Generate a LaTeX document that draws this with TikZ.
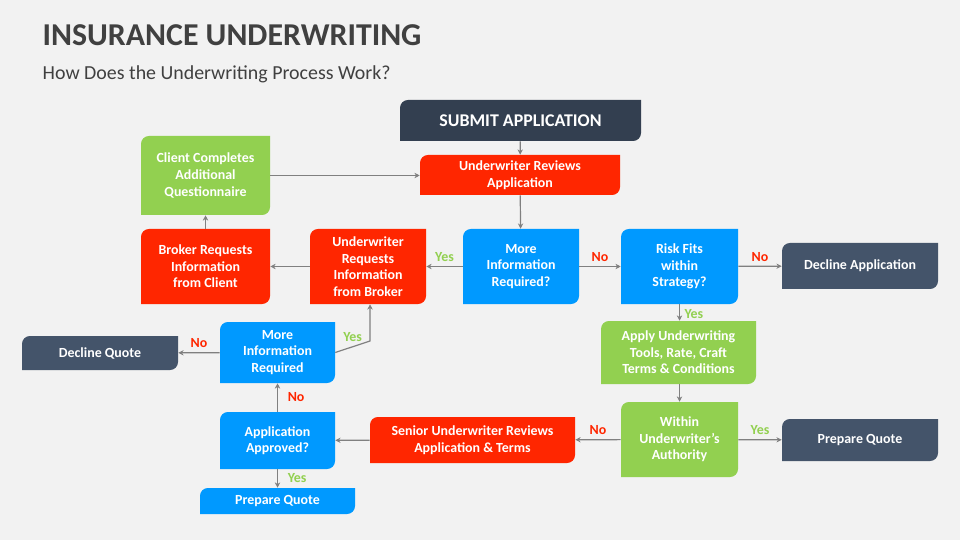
\documentclass[tikz,border=0pt]{standalone}
\usepackage{fontspec}
\setmainfont{Carlito}
\usetikzlibrary{arrows.meta}
\definecolor{bg}{HTML}{F2F2F2}
\definecolor{dk}{HTML}{333F50}
\definecolor{dk2}{HTML}{44546A}
\definecolor{rd}{HTML}{FF2600}
\definecolor{gr}{HTML}{92D050}
\definecolor{bl}{HTML}{0099FF}
\definecolor{tx}{HTML}{404040}
\definecolor{ln}{HTML}{808080}
\tikzset{
  conn/.style={draw=ln,line width=0.9pt,-{Stealth[length=4pt,width=4pt]}},
  yes/.style={text=gr,font=\bfseries\fontsize{10.5}{12}\selectfont},
  no/.style={text=rd,font=\bfseries\fontsize{10.5}{12}\selectfont},
  boxtext/.style={text=white,font=\bfseries\fontsize{10.5}{12.5}\selectfont,align=center,inner sep=0pt}
}
\newcommand{\bx}[7]{%
  \fill[#6] (#2,#5) [rounded corners=6pt] -- (#2,#3) [sharp corners] -- (#4,#3) [rounded corners=6pt] -- (#4,#5) [sharp corners] -- cycle;
  \node[boxtext,minimum width={(#4-#2)*0.0265cm},minimum height={(#5-#3)*0.0265cm}] (#1) at ({(#2+#4)/2},{(#3+#5)/2}) {#7};
}
\begin{document}
\begin{tikzpicture}[x=0.0265cm,y=-0.0265cm]
\fill[bg] (0,0) rectangle (960,540);
\useasboundingbox (0,0) rectangle (960,540);
\node[anchor=west,text=tx,font=\bfseries\fontsize{24}{28}\selectfont] (title) at (38,35) {INSURANCE UNDERWRITING};
\node[anchor=west,text=tx,font=\fontsize{15}{18}\selectfont] (sub) at (38,74) {How Does the Underwriting Process Work?};
\bx{submit}{400}{100}{641}{141}{dk}{\fontsize{13.5}{16}\selectfont SUBMIT APPLICATION}
\bx{review}{420}{155}{620}{195}{rd}{Underwriter Reviews\\Application}
\bx{client}{141}{136}{270}{215}{gr}{Client Completes\\Additional\\Questionnaire}
\bx{broker}{141}{229}{270}{304}{rd}{Broker Requests\\Information\\from Client}
\bx{uwreq}{310}{229}{426}{304}{rd}{Underwriter\\Requests\\Information\\from Broker}
\bx{more1}{463}{229}{579}{304}{bl}{More\\Information\\Required?}
\bx{risk}{621}{229}{738}{304}{bl}{Risk Fits\\within\\Strategy?}
\bx{decapp}{782}{243}{938}{289}{dk2}{Decline Application}
\bx{apply}{601}{321}{756}{384}{gr}{Apply Underwriting\\Tools, Rate, Craft\\Terms \& Conditions}
\bx{within}{621}{402}{738}{477}{gr}{Within\\Underwriter's\\Authority}
\bx{prepR}{782}{419}{938}{461}{dk2}{Prepare Quote}
\bx{senior}{370}{417}{575}{463}{rd}{Senior Underwriter Reviews\\Application \& Terms}
\bx{approved}{220}{412}{335}{469}{bl}{Application\\Approved?}
\bx{more2}{220}{322}{335}{383}{bl}{More\\Information\\Required}
\bx{decq}{22}{336}{178}{370}{dk2}{Decline Quote}
\bx{prepB}{200}{488}{355}{514}{bl}{Prepare Quote}
\draw[conn] (submit) -- (review);
\draw[conn] (client) -- (client -| review.west);
\draw[conn] (review) -- (more1);
\draw[conn] (more1) -- node[yes,above]{Yes} (uwreq);
\draw[conn] (uwreq) -- (broker);
\draw[conn] (broker) -- (client);
\draw[conn] (more1) -- node[no,above]{No} (risk);
\draw[conn] (risk) -- node[no,above]{No} (decapp);
\draw[conn] (risk) -- node[yes,right,pos=0.6]{Yes} (apply.north -| risk);
\draw[conn] (apply.south -| within) -- (within);
\draw[conn] (within) -- node[yes,above]{Yes} (prepR);
\draw[conn] (within) -- node[no,above]{No} (senior);
\draw[conn] (senior) -- (approved);
\draw[conn] (approved) -- node[yes,right,xshift=4pt]{Yes} (prepB);
\draw[conn] (approved) -- node[no,right,xshift=4pt]{No} (more2);
\draw[conn] (more2) -- node[no,above]{No} (decq);
\draw[conn] (more2.east) -- node[yes,above]{Yes} (370,341) -- (uwreq.south -| 370,0);
\end{tikzpicture}
\end{document}
